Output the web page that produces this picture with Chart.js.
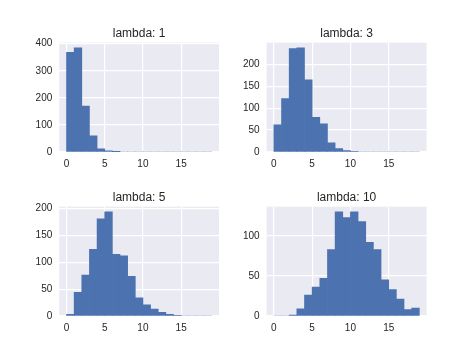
<!DOCTYPE html>
<html><head><meta charset="utf-8">
<script src="https://cdn.jsdelivr.net/npm/chart.js@4"></script>
<style>
html,body{margin:0;padding:0;background:#fff;width:474px;height:355px;overflow:hidden}
canvas{position:absolute}
</style></head>
<body>
<canvas id="c0"></canvas><canvas id="c1"></canvas><canvas id="c2"></canvas><canvas id="c3"></canvas>
<script>
const binStarts = [0,1,2,3,4,5,6,7,8,9,10,11,12,13,14,15,16,17,18];
const counts1  = [368,385,170,60,12,4,1,0,0,0,0,0,0,0,0,0,0,0,0];
const counts3  = [62,122,236,238,165,79,64,21,8,3,1,0,0,0,0,0,0,0,0];
const counts5  = [3,44,76,124,181,194,115,112,74,34,21,13,7,3,1,0,0,0,0];
const counts10 = [0,0,1,9,26,36,47,83,130,123,130,118,92,83,45,33,21,8,10];
const titles = ["lambda: 1","lambda: 3","lambda: 5","lambda: 10"];
const xTicks = [0,5,10,15];
const yTicks1  = [0,100,200,300,400];
const yTicks3  = [0,50,100,150,200];
const yTicks5  = [0,50,100,150,200];
const yTicks10 = [0,50,100];

const seriesList = [counts1, counts3, counts5, counts10];
const yTickList = [yTicks1, yTicks3, yTicks5, yTicks10];

// layout: canvas box and chart-area insets
const panels = [
  {left:0,   top:0,   w:237, h:177, yw:59.25, pt:42.6,  pr:18.03, xh:25.04},
  {left:237, top:0,   w:237, h:177, yw:29.6,  pt:42.6,  pr:47.4,  xh:25.04},
  {left:0,   top:177, w:237, h:178, yw:59.25, pt:29.64, pr:18.03, xh:39},
  {left:237, top:177, w:237, h:178, yw:29.6,  pt:29.64, pr:47.4,  xh:39}
];

const TXT = '#262626';
const FONT = 'Liberation Sans, Arial, sans-serif';

const bgPlugin = {
  id: 'bg',
  beforeDraw(chart) {
    const a = chart.chartArea, ctx = chart.ctx;
    ctx.save();
    ctx.fillStyle = '#EAEAF2';
    ctx.fillRect(a.left, a.top, a.right - a.left, a.bottom - a.top);
    ctx.restore();
  },
  afterDraw(chart) {
    const a = chart.chartArea, ctx = chart.ctx;
    ctx.save();
    ctx.fillStyle = TXT;
    ctx.font = '12px ' + FONT;
    ctx.textAlign = 'center';
    ctx.textBaseline = 'alphabetic';
    ctx.fillText(chart.options.plugins.panelTitle.text, (a.left + a.right) / 2, a.top - 5.4);
    ctx.restore();
  }
};

panels.forEach((p, i) => {
  const cv = document.getElementById('c' + i);
  cv.width = p.w; cv.height = p.h;
  cv.style.left = p.left + 'px'; cv.style.top = p.top + 'px';
  cv.style.width = p.w + 'px'; cv.style.height = p.h + 'px';
  const counts = seriesList[i];
  const yt = yTickList[i];
  const ymax = Math.max(...counts) * 1.05;
  new Chart(cv, {
    type: 'bar',
    data: {
      datasets: [{
        data: binStarts.map((b, k) => ({x: b + 0.5, y: counts[k]})),
        backgroundColor: '#4C72B0',
        borderWidth: 0,
        barPercentage: 1,
        categoryPercentage: 1
      }]
    },
    options: {
      responsive: false,
      animation: false,
      devicePixelRatio: 1,
      layout: {padding: {left: 0, top: p.pt, right: p.pr, bottom: 0}},
      plugins: {legend: {display: false}, tooltip: {enabled: false}, panelTitle: {text: titles[i]}},
      scales: {
        x: {
          type: 'linear', min: -0.95, max: 19.95, offset: false,
          afterBuildTicks: s => { s.ticks = xTicks.map(v => ({value: v})); },
          afterFit: s => { s.height = p.xh; },
          grid: {color: '#ffffff', lineWidth: 1.2, drawTicks: false, offset: false},
          border: {display: false},
          ticks: {color: TXT, font: {family: FONT, size: 10}, padding: 6.5, autoSkip: false, maxRotation: 0,
                  callback: v => String(v)}
        },
        y: {
          type: 'linear', min: 0, max: ymax,
          afterBuildTicks: s => { s.ticks = yt.map(v => ({value: v})); },
          afterFit: s => { s.width = p.yw; },
          grid: {color: '#ffffff', lineWidth: 1.2, drawTicks: false},
          border: {display: false},
          ticks: {color: TXT, font: {family: FONT, size: 10}, padding: 7, autoSkip: false,
                  callback: v => String(v)}
        }
      }
    },
    plugins: [bgPlugin]
  });
});
</script>
</body></html>
